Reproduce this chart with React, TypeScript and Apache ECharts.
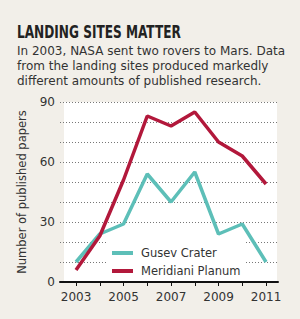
import React, { useEffect, useRef } from "react";
import * as echarts from "echarts";

const years = [2003, 2004, 2005, 2006, 2007, 2008, 2009, 2010, 2011];
const gusev = [10, 24, 29, 54, 40, 55, 24, 29, 10];
const meridiani = [6, 23, 51, 83, 78, 85, 70, 63, 49];
const xLabels = [2003, 2005, 2007, 2009, 2011];
const yLabels = [0, 30, 60, 90];
const seriesNames = ["Gusev Crater", "Meridiani Planum"];
const title = "LANDING SITES MATTER";
const subtitle = [
  "In 2003, NASA sent two rovers to Mars. Data",
  "from the landing sites produced markedly",
  "different amounts of published research.",
];

const FONT = "DejaVu Sans";

export default function App() {
  const ref = useRef<HTMLDivElement>(null);
  useEffect(() => {
    if (!ref.current) return;
    const chart = echarts.init(ref.current, null, { renderer: "svg" });
    chart.setOption({
      animation: false,
      backgroundColor: "#f2efe9",
      graphic: [
        {
          type: "rect",
          z: -1,
          shape: { x: 64, y: 102, width: 213, height: 180 },
          style: { fill: "#ffffff" },
          silent: true,
        },
        {
          type: "text",
          x: 17,
          y: 32,
          scaleX: 0.75,
          style: {
            text: title,
            font: `bold 18px "DejaVu Sans Condensed", "DejaVu Sans"`,
            fill: "#222",
            verticalAlign: "middle",
          },
        },
        ...subtitle.map((t, i) => ({
          type: "text",
          x: 17,
          y: 51 + i * 15,
          style: {
            text: t,
            font: `12px "${FONT}"`,
            fill: "#333",
            verticalAlign: "middle",
          },
        })),
      ],
      grid: { left: 60, right: 22, top: 102, bottom: 37 },
      legend: {
        data: seriesNames,
        orient: "vertical",
        left: 107,
        top: 241,
        backgroundColor: "#ffffff",
        padding: [5, 5, 3, 5],
        icon: "rect",
        itemWidth: 21,
        itemHeight: 4,
        itemGap: 4,
        textStyle: {
          fontFamily: FONT,
          fontSize: 11.5,
          color: "#333",
          lineHeight: 14,
          padding: [0, 0, 0, 3],
        },
      },
      xAxis: {
        type: "value",
        min: 2002.326,
        max: 2011.505,
        splitLine: { show: false },
        axisLine: { show: true, lineStyle: { color: "#111", width: 2 } },
        axisTick: {
          show: true,
          customValues: years,
          length: 4,
          lineStyle: { color: "#111", width: 1 },
        },
        axisLabel: {
          customValues: xLabels,
          formatter: (v: number) => String(v),
          fontFamily: FONT,
          fontSize: 12,
          color: "#333",
          margin: 9,
        },
      },
      yAxis: {
        type: "value",
        min: 0,
        max: 90,
        interval: 10,
        name: "Number of published papers",
        nameLocation: "middle",
        nameGap: 32,
        nameTextStyle: { fontFamily: FONT, fontSize: 11.5, color: "#333" },
        axisLine: { show: false },
        axisTick: { show: false },
        axisLabel: {
          customValues: yLabels,
          fontFamily: FONT,
          fontSize: 12,
          color: "#333",
          margin: 5,
        },
        splitLine: {
          show: true,
          lineStyle: { color: "#777", type: [1, 2], width: 1 },
        },
      },
      series: [
        {
          name: seriesNames[0],
          type: "line",
          data: years.map((y, i) => [y, gusev[i]]),
          symbol: "none",
          lineStyle: { color: "#5dbfb8", width: 3.5 },
          itemStyle: { color: "#5dbfb8" },
        },
        {
          name: seriesNames[1],
          type: "line",
          data: years.map((y, i) => [y, meridiani[i]]),
          symbol: "none",
          lineStyle: { color: "#b2183b", width: 3.5 },
          itemStyle: { color: "#b2183b" },
        },
      ],
    });
    return () => chart.dispose();
  }, []);
  return <div ref={ref} style={{ width: 300, height: 319, position: "absolute", left: 0, top: 0 }} />;
}
